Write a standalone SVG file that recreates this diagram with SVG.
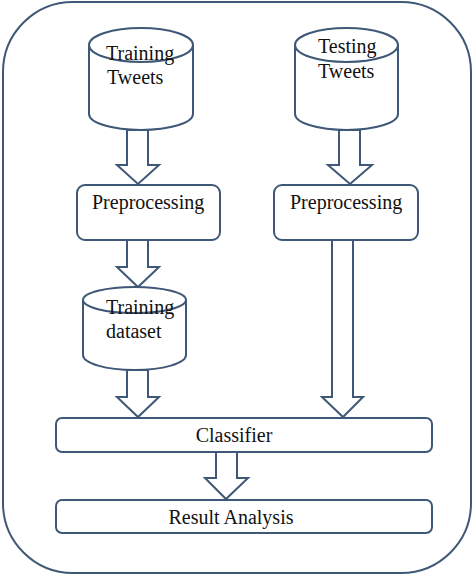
<svg xmlns="http://www.w3.org/2000/svg" width="474" height="576" viewBox="0 0 474 576">
<style>
.s{fill:#fff;stroke:#3f5877;stroke-width:2}
.t{font-family:"Liberation Serif","Times New Roman",serif;font-size:20px;fill:#111}
</style>
<rect x="0" y="0" width="474" height="576" fill="#fff"/>
<g id="frame"><rect class="s" x="3" y="2" width="468" height="571" rx="70" ry="70"/></g>
<g id="connectors">
<polygon class="s" points="127,130 148,130 148,165 159,165 138,184 117,165 127,165"/>
<polygon class="s" points="339,130 360,130 360,165 372,165 350,184 328,165 339,165"/>
<polygon class="s" points="127,240 148,240 148,267 159,267 138,287 117,267 127,267"/>
<polygon class="s" points="332,240 353,240 353,397 363,397 343,417 322,397 332,397"/>
<polygon class="s" points="127,370 148,370 148,397 159,397 138,417 117,397 127,397"/>
<polygon class="s" points="216,452 237,452 237,478 248,478 226,499 205,478 216,478"/>
</g>
<g id="training-tweets">
<path class="s" d="M89,46 L89,114 A52,16 0 0 0 193,114 L193,46"/>
<ellipse class="s" cx="141" cy="45" rx="52" ry="17"/>
<text class="t" x="106" y="60">Training</text>
<text class="t" x="107" y="84">Tweets</text>
</g>
<g id="testing-tweets">
<path class="s" d="M295,46 L295,114 A51.5,16 0 0 0 398,114 L398,46"/>
<ellipse class="s" cx="346.5" cy="45" rx="51.5" ry="17"/>
<text class="t" x="318" y="53">Testing</text>
<text class="t" x="318" y="78">Tweets</text>
</g>
<g id="preprocessing-left">
<rect class="s" x="77" y="185" width="143" height="55" rx="8"/>
<text class="t" x="92" y="209">Preprocessing</text>
</g>
<g id="preprocessing-right">
<rect class="s" x="274" y="185" width="144" height="55" rx="8"/>
<text class="t" x="290" y="209">Preprocessing</text>
</g>
<g id="training-dataset">
<path class="s" d="M83,300 L83,355 A51.5,15 0 0 0 186,355 L186,300"/>
<ellipse class="s" cx="134.5" cy="300" rx="51.5" ry="13"/>
<text class="t" x="106" y="314">Training</text>
<text class="t" x="106" y="338">dataset</text>
</g>
<g id="classifier">
<rect class="s" x="56" y="418" width="376" height="34" rx="6"/>
<text class="t" x="234" y="442" text-anchor="middle">Classifier</text>
</g>
<g id="result-analysis">
<rect class="s" x="56" y="500" width="376" height="33" rx="6"/>
<text class="t" x="231" y="524" text-anchor="middle">Result Analysis</text>
</g>
</svg>
